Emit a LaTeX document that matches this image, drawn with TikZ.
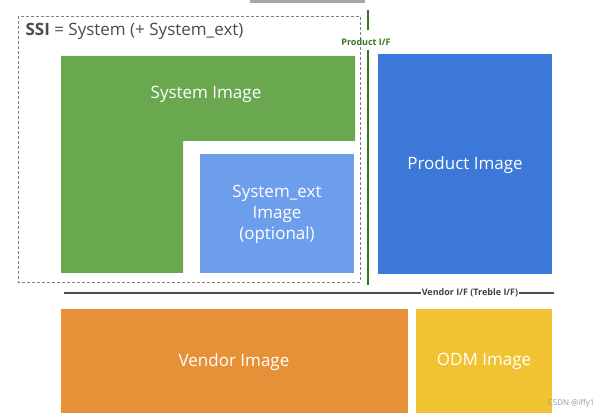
\documentclass[tikz,border=0pt]{standalone}
\usepackage{fontspec}
\setmainfont{Open Sans}
\usetikzlibrary{positioning}
\definecolor{sysgreen}{HTML}{6AA84F}
\definecolor{extblue}{HTML}{6D9EEB}
\definecolor{prodblue}{HTML}{3C78D8}
\definecolor{vendorange}{HTML}{E69138}
\definecolor{odmyellow}{HTML}{F1C232}
\definecolor{ifgreen}{HTML}{38761D}
\tikzset{
  img/.style={draw=none, text=white, align=center, font=\fontsize{17}{21}\selectfont, inner sep=0pt},
  iflabel/.style={font=\fontsize{9}{10}\selectfont\bfseries, inner sep=1pt}
}
\begin{document}
\begin{tikzpicture}[x=1pt, y=-1pt]
  \useasboundingbox (0,0) rectangle (616,419);
  % top bar
  \fill[gray!70] (250,0) rectangle (365,3);
  % SSI dashed box
  \draw[gray, densely dashed, line width=0.5pt] (18,16) rectangle (360,282);
  \node[anchor=west, text=black!70, font=\fontsize{17}{20}\selectfont] (ssi) at (22,31) {\textbf{SSI} = System (+ System\_ext)};

  % System image (L shape)
  \fill[sysgreen] (61,56) -- (355,56) -- (355,141) -- (183,141) -- (183,273) -- (61,273) -- cycle;
  \node[img] (sys) at (206,94) {System Image};
  \fill[extblue] (200,154) rectangle (354,273);
  \node[img] (ext) at (277,214) {System\_ext\\Image\\(optional)};

  % Product I/F
  \coordinate (pa) at (368,10);
  \coordinate (pb) at (368,30);
  \coordinate (pc) at (368,50);
  \coordinate (pd) at (368,285);
  \draw[ifgreen, line width=1.2pt] (pa) -- (pb) (pc) -- (pd);
  \node[iflabel, text=ifgreen] (pif) at (366,42) {Product I/F};
  \fill[prodblue] (378,54) rectangle (552,274);
  \node[img] (prod) at (465,165) {Product Image};

  % Vendor I/F
  \node[iflabel, text=black!75] (vif) at (470,293) {Vendor I/F (Treble I/F)};
  \coordinate (va) at (64,293);
  \coordinate (vb) at (554,293);
  \draw[black!70, line width=1.2pt] (va) -- (vif.west) (vif.east) -- (vb);

  % vendor partitions
  \fill[vendorange] (61,309) rectangle (408,413);
  \node[img] (vendor) at (234,362) {Vendor Image};
  \fill[odmyellow] (416,309) rectangle (552,413);
  \node[img] (odm) at (484,361) {ODM Image};

  \node[text=gray!80, font=\fontsize{8}{9}\selectfont, anchor=east] (wm) at (598,403) {CSDN @iffy1};
\end{tikzpicture}
\end{document}
